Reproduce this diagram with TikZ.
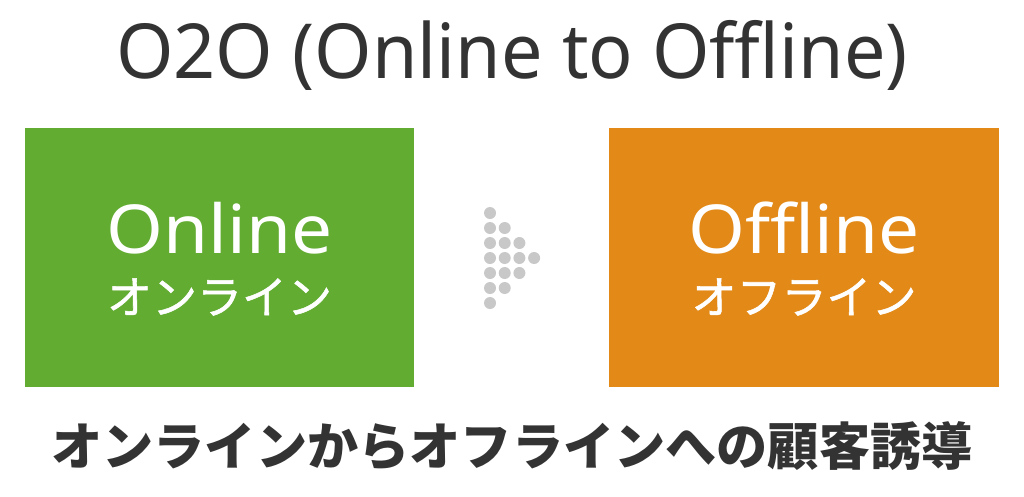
\documentclass[tikz,border=0pt]{standalone}
\usepackage{fontspec}
\setmainfont{Noto Sans}
\newfontfamily\cjk{Noto Sans CJK JP}
\newfontfamily\cjkmid{Noto Sans CJK JP}[FakeBold=1.2]
\usetikzlibrary{positioning}

\definecolor{ongreen}{RGB}{98,172,50}
\definecolor{offorange}{RGB}{226,137,23}
\definecolor{textgray}{RGB}{51,51,51}
\definecolor{dotgray}{RGB}{200,200,200}

\begin{document}
\begin{tikzpicture}[x=0.025cm, y=-0.025cm,
    box/.style={draw=none, minimum width=9.725cm, minimum height=6.475cm, inner sep=0pt},
    entext/.style={text=white, font=\fontsize{48}{48}\selectfont, inner sep=0pt, anchor=base, xscale=1.08},
    jptext/.style={text=white, font=\cjkmid\fontsize{32}{32}\selectfont, inner sep=0pt}]
  \useasboundingbox (0,0) rectangle (1024,496);

  \node[text=textgray, font=\fontsize{54}{54}\selectfont, anchor=base, inner sep=0pt, xscale=0.97] (title) at (512,78) {O2O (Online to Offline)};

  \node[box, fill=ongreen] (on) at (219.5,257.5) {};
  \node[box, fill=offorange] (off) at (804,257.5) {};

  \node[entext] (on-en) at (219.5,253) {Online};
  \node[jptext] (on-jp) at (219.5,297) {オンライン};
  \node[entext] (off-en) at (804,253) {Offline};
  \node[jptext] (off-jp) at (804,297) {オフライン};

  % dotted arrow
  \foreach \i in {0,...,3}{
    \pgfmathtruncatemacro{\n}{3-\i}
    \foreach \j in {-\n,...,\n}
      \fill[dotgray] (490+14.7*\i,258+15*\j) circle (6);
  }

  \node[text=textgray, font=\cjk\bfseries\fontsize{36.4}{36.4}\selectfont] (caption) at (512,446) {オンラインからオフラインへの顧客誘導};
\end{tikzpicture}
\end{document}
